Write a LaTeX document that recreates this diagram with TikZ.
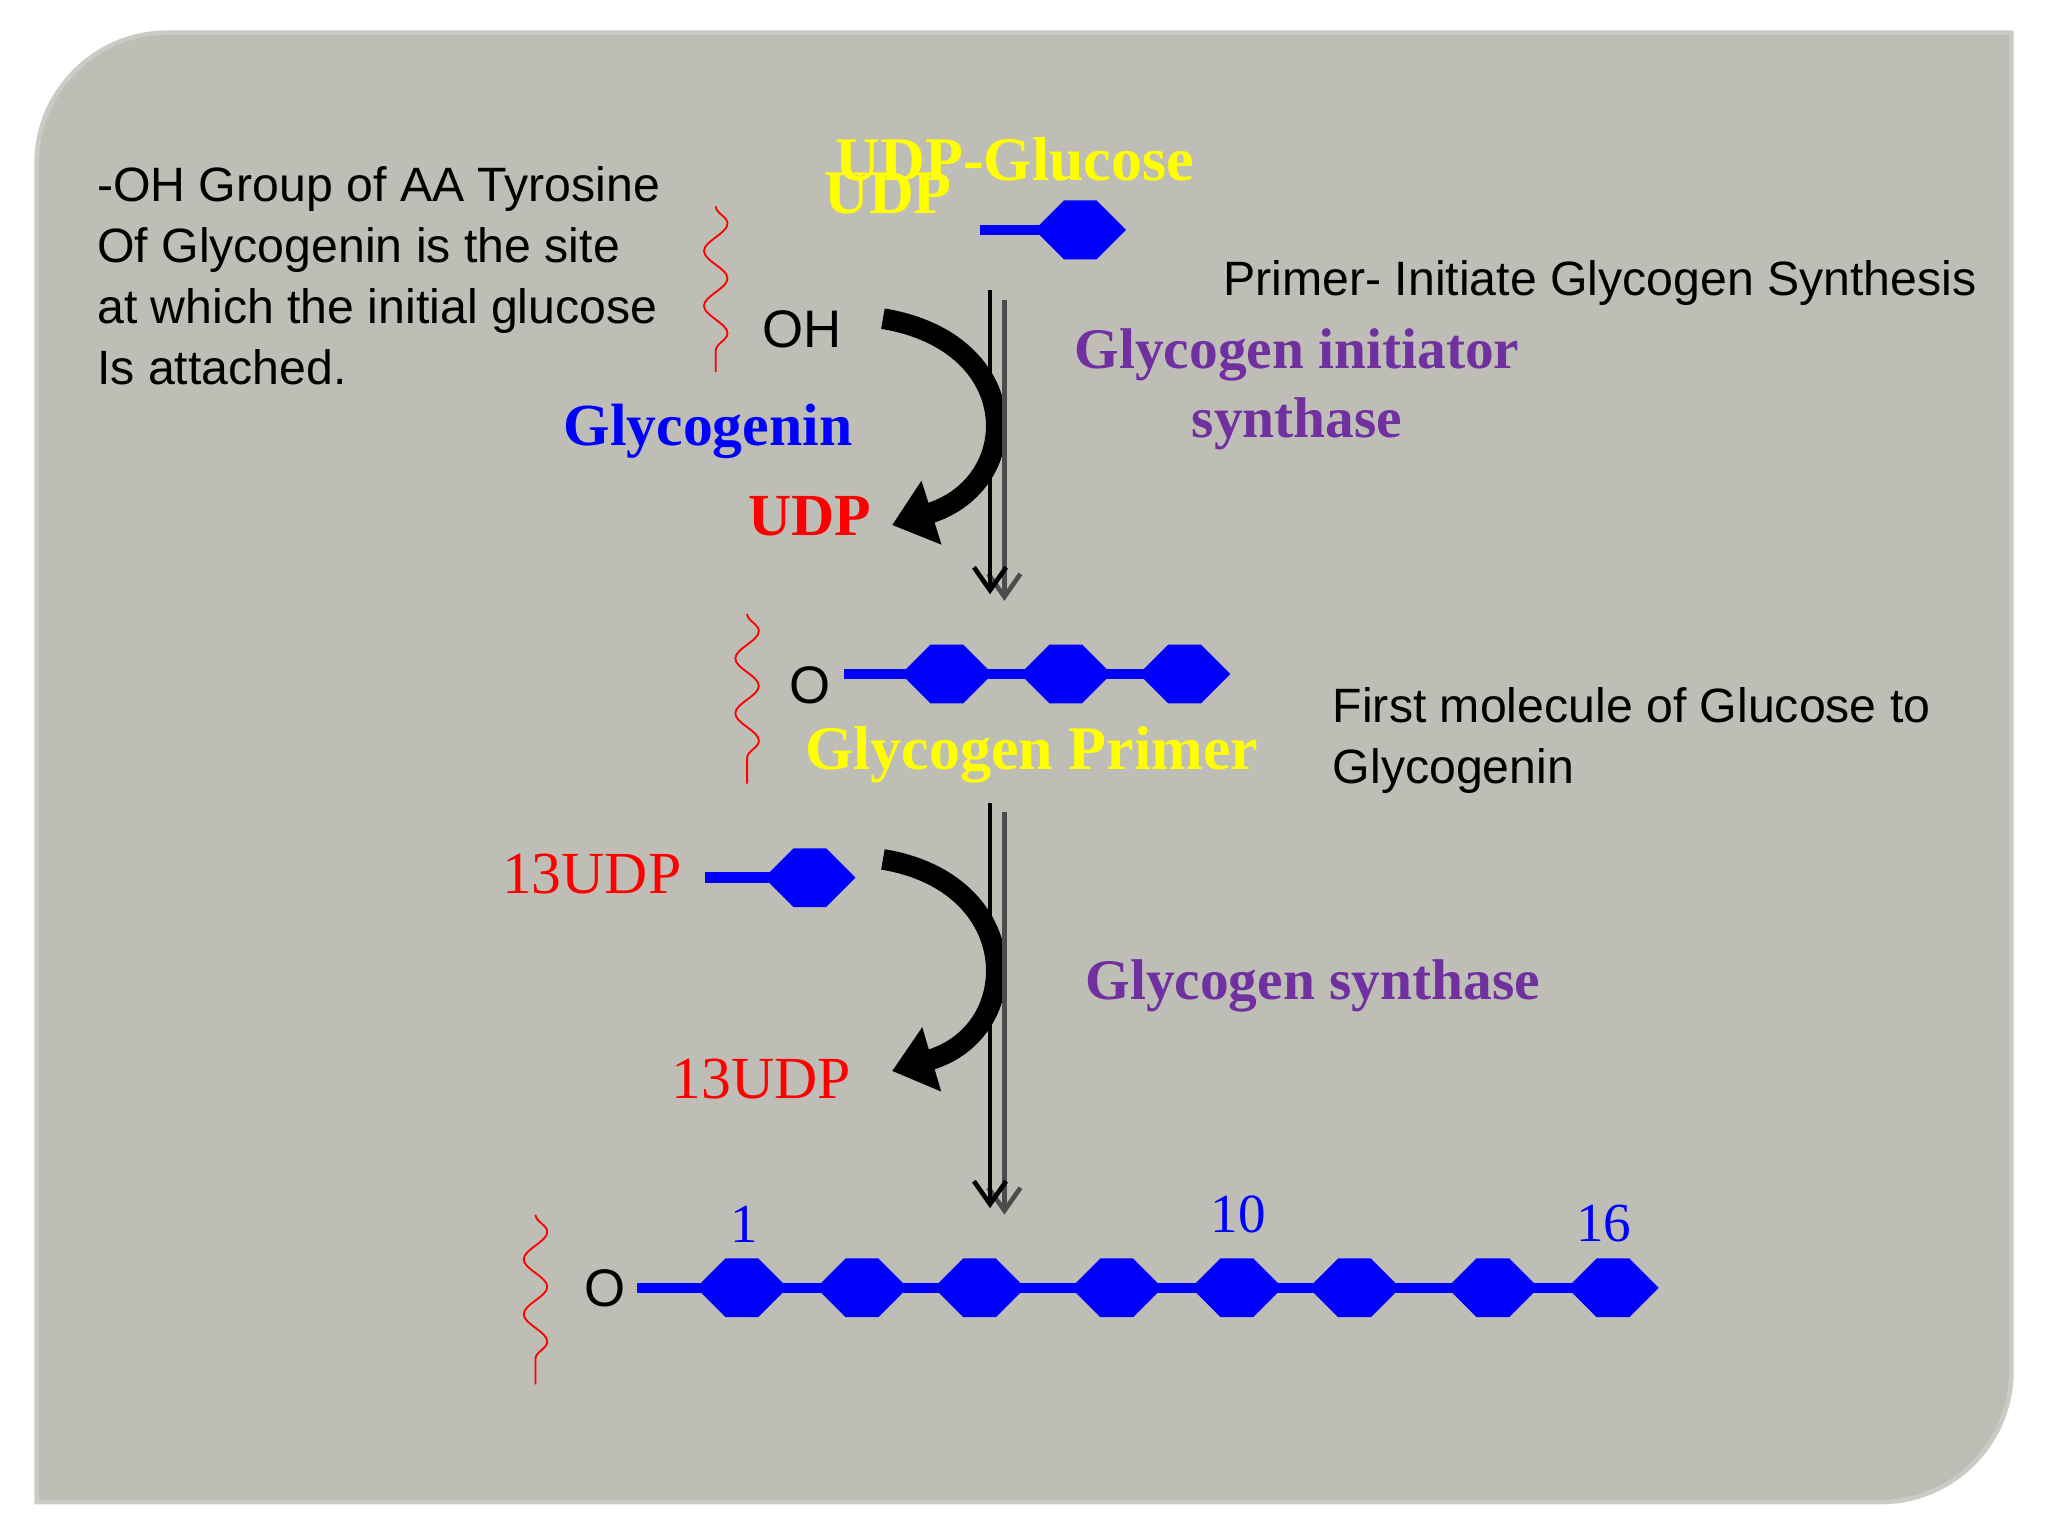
\documentclass[tikz,border=0pt]{standalone}
\usepackage{fontspec}
\setmainfont{Liberation Serif}
\setsansfont{Liberation Sans}
\usetikzlibrary{positioning,shapes.symbols,arrows.meta,decorations.pathmorphing}
\definecolor{bgray}{RGB}{190,190,183}
\definecolor{purp}{RGB}{112,48,160}
\definecolor{yel}{RGB}{255,255,0}
\begin{document}
\begin{tikzpicture}[x=0.01cm, y=-0.01cm,
    glc/.style={signal, signal to=east and west, fill=blue, draw=none, minimum width=0.7cm, minimum height=0.45cm, inner sep=0pt},
    chain/.style={blue, line width=2.3pt},
    plain/.style={font=\sffamily\fontsize{10.5}{13.3}\selectfont, align=left},
    enz/.style={font=\bfseries\fontsize{12.5}{15}\selectfont, text=purp},
    wavy/.style={red, thin, decorate, decoration={snake, amplitude=0.09cm, segment length=0.42cm}},
    curl/.style={line width=4.5pt, -{Triangle[width=14pt,length=9pt]}},
    down/.style={line width=1pt, -{Straight Barb[length=5pt,width=7pt]}}
]
\useasboundingbox (0,0) rectangle (1568,1176);
% background
\fill[white] (0,0) rectangle (1568,1176);
\draw[bgray!80!white, fill=bgray, line width=1pt]
    (128,25) -- (1540,25) -- (1540,1050) .. controls (1540,1105) and (1495,1150) .. (1440,1150)
    -- (28,1150) -- (28,125) .. controls (28,70) and (73,25) .. (128,25) -- cycle;

% left note
\node[plain, anchor=north west] (note) at (62,115) {-OH Group of AA Tyrosine\\Of Glycogenin is the site\\at which the initial glucose\\Is attached.};
\draw[wavy] (548,158) -- (548,285);

% UDP-glucose
\node[font=\bfseries\fontsize{13.5}{15}\selectfont, text=yel] (udpglc) at (777,122) {UDP-Glucose};
\node[font=\bfseries\fontsize{13.5}{15}\selectfont, text=yel] (udp0) at (680,148) {UDP};
\coordinate (s0) at (750,176);
\coordinate (e0) at (827,176);
\draw[chain] (s0) -- (e0);
\node[glc] (g0) at (e0) {};
\node[plain] (primer) at (1225,217) {Primer- Initiate Glycogen Synthesis};

% first step
\node[font=\sffamily\fontsize{11.5}{13}\selectfont] (oh) at (614,252) {OH};
\node[font=\bfseries\fontsize{13}{15}\selectfont, text=blue] (gnin) at (542,330) {Glycogenin};
\node[font=\bfseries\fontsize{13}{15}\selectfont, text=red] (udp1) at (620,395) {UDP};
\node[enz, align=center] (gis) at (993,298) {Glycogen initiator\\[0pt]synthase};
\coordinate (a1) at (676,244);
\coordinate (b1) at (683,402);
\draw[curl] (a1) .. controls (785,262) and (785,370) .. (b1);
\coordinate (t1) at (758,222); \coordinate (u1) at (758,455);
\coordinate (t2) at (769,230); \coordinate (u2) at (769,460);
\draw[down, gray!60!black] (t2) -- (u2);
\draw[down, black] (t1) -- (u1);

% primer chain
\draw[wavy] (572,470) -- (572,600);
\node[font=\sffamily\fontsize{11.5}{13}\selectfont] (o1) at (620,525) {O};
\coordinate (s1) at (646,516);
\coordinate (e1) at (907,516);
\draw[chain] (s1) -- (e1);
\node[glc] (p1) at (725,516) {};
\node[glc] (p2) at (816,516) {};
\node[glc] (p3) at (e1) {};
\node[font=\bfseries\fontsize{13.5}{15}\selectfont, text=yel] (gprim) at (790,578) {Glycogen Primer};
\node[plain, anchor=west] (first) at (1008,567) {First molecule of Glucose to\\Glycogenin};

% second step
\node[font=\fontsize{13}{15}\selectfont, text=red] (u13a) at (453,669) {13UDP};
\coordinate (s13) at (540,672);
\coordinate (e13) at (620,672);
\draw[chain] (s13) -- (e13);
\node[glc] (g13) at (e13) {};
\node[font=\fontsize{13}{15}\selectfont, text=red] (u13b) at (583,826) {13UDP};
\node[enz] (gsyn) at (1005,755) {Glycogen synthase};
\coordinate (a2) at (676,658);
\coordinate (b2) at (683,820);
\draw[curl] (a2) .. controls (785,676) and (785,790) .. (b2);
\coordinate (t3) at (758,615); \coordinate (u3) at (758,925);
\coordinate (t4) at (769,622); \coordinate (u4) at (769,930);
\draw[down, gray!60!black] (t4) -- (u4);
\draw[down, black] (t3) -- (u3);

% glycogen chain
\draw[wavy] (410,930) -- (410,1060);
\node[font=\sffamily\fontsize{11.5}{13}\selectfont] (o2) at (463,986) {O};
\coordinate (s2) at (488,986);
\coordinate (e2) at (1235,986);
\draw[chain] (s2) -- (e2);
\foreach \x [count=\i] in {568,660,750,855,947,1037,1143,1235}
    \node[glc] (c\i) at (\x,986) {};
\node[font=\fontsize{12}{14}\selectfont, text=blue] (n1) at (570,937) {1};
\node[font=\fontsize{12}{14}\selectfont, text=blue] (n10) at (948,930) {10};
\node[font=\fontsize{12}{14}\selectfont, text=blue] (n16) at (1228,937) {16};
\end{tikzpicture}
\end{document}
